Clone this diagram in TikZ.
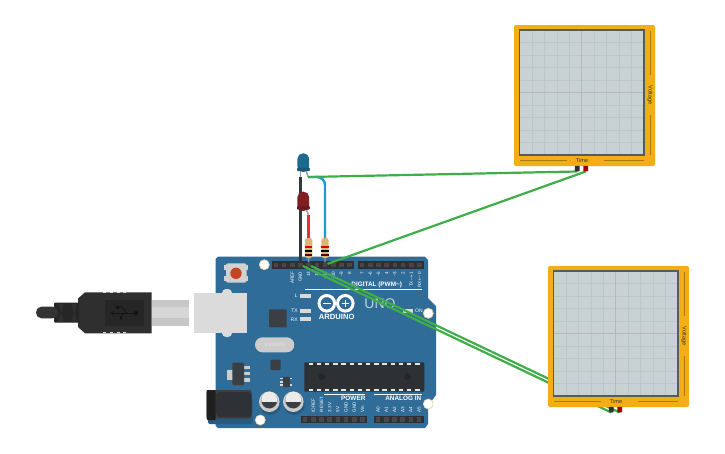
\documentclass[tikz,border=0pt]{standalone}
\usepackage{fontspec}
\setmainfont{Liberation Sans}
\usetikzlibrary{positioning}
\definecolor{boardblue}{HTML}{2F6C98}
\definecolor{boarddark}{HTML}{265A80}
\definecolor{scopeorange}{HTML}{F2AE14}
\definecolor{scopescreen}{HTML}{C8D2D4}
\definecolor{scopegrid}{HTML}{BDC7C9}
\definecolor{scopeedge}{HTML}{555B5E}
\definecolor{headerdark}{HTML}{2E3133}
\definecolor{wiregreen}{HTML}{3FAE49}
\definecolor{wireblue}{HTML}{1E9AD6}
\definecolor{wirered}{HTML}{E8312F}
\definecolor{wireblack}{HTML}{34383B}
\definecolor{ledblue}{HTML}{1C6A8E}
\definecolor{ledred}{HTML}{7F1F22}
\definecolor{restan}{HTML}{D9B779}
\definecolor{chipdark}{HTML}{3A3F44}
\definecolor{plugdark}{HTML}{2F2F2F}
\tikzset{x=1pt,y=-1pt,
    wirelink/.style={line width=2.2pt,wiregreen},
    flatwire/.style={line width=2.4pt},
    header/.style={fill=headerdark,draw=none,inner sep=0pt,minimum height=7.6pt},
    pinhole/.style={fill=black!72,draw=none,inner sep=0pt,minimum size=4.6pt},
    mounthole/.style={circle,fill=white,draw=restan!60,line width=.7pt,inner sep=0pt,minimum size=10pt},
    boardtext/.style={text=white,inner sep=0pt,font=\fontsize{5}{5}\selectfont},
    pintext/.style={boardtext,rotate=90,font=\fontsize{4.6}{5}\selectfont},
    headtext/.style={boardtext,font=\bfseries\fontsize{6.4}{6}\selectfont},
    boardline/.style={white,line width=.6pt},
    smd/.style={fill=white!85!black,draw=none,inner sep=0pt,minimum width=10.5pt,minimum height=4pt},
    led/.style={draw=none},
    lead/.style={line width=1.3pt,black!40},
    usbmark/.style={black!92,line width=.7pt},
    resistor/.style={fill=restan,draw=none,rounded corners=2.5pt,inner sep=0pt,
        minimum width=7.4pt,minimum height=20pt},
    probe/.style={fill=#1,draw=none,inner sep=0pt,minimum width=4.8pt,minimum height=5.5pt,rounded corners=.6pt},
    scopeoutline/.style={fill=scopeorange,draw=none,rounded corners=2pt},
    scopelabel/.style={text=black!80,inner sep=0pt,font=\fontsize{5.6}{6}\selectfont},
    oscilloscope/.pic={
        \fill[scopeoutline] (0,0) rectangle (141,141);
        \fill[scopescreen] (5.5,5) rectangle (130,130);
        \foreach \g in {1,...,9}{
            \draw[scopegrid,line width=.6pt] (5.5+12.45*\g,5) -- (5.5+12.45*\g,130);
            \draw[scopegrid,line width=.6pt] (5.5,5+12.5*\g) -- (130,5+12.5*\g);
        }
        \draw[black!28,line width=.8pt] (67.75,5) -- (67.75,130);
        \draw[black!28,line width=.8pt] (5.5,67.5) -- (130,67.5);
        \draw[scopeedge,line width=1.4pt] (5.5,5) rectangle (130,130);
        \draw[black!30!scopeorange,line width=.4pt] (6,135.5) -- (53,135.5);
        \draw[black!30!scopeorange,line width=.4pt] (90,135.5) -- (130,135.5);
        \draw[black!30!scopeorange,line width=.4pt] (136,6) -- (136,50);
        \draw[black!30!scopeorange,line width=.4pt] (136,90) -- (136,130);
        \node[scopelabel] (-time) at (68,135.5) {Time};
        \node[scopelabel,rotate=-90] (-voltage) at (136,70) {Voltage};
        \node[probe=headerdark] (-black) at (63.3,143.5) {};
        \node[probe=red!60!black] (-red) at (71.7,143.5) {};
    }}
\begin{document}
\begin{tikzpicture}
    \useasboundingbox[fill=white] (0,0) rectangle (725,453);

    % board
    \fill[boardblue] (218,256.7) -- (425,256.7) -- (428,260) -- (428,298) -- (436,306)
        -- (436,395) -- (428,406) -- (428,424) -- (425,428) -- (218,428)
        -- (215.7,426) -- (215.7,259) -- cycle;

    % headers and pins
    \node[header,minimum width=82pt] (headA) at (312.7,264.8) {};
    \node[header,minimum width=66pt] (headB) at (391,264.8) {};
    \node[header,minimum width=65.6pt] (headC) at (333.8,419.6) {};
    \node[header,minimum width=49.6pt] (headD) at (398.8,419.6) {};
    \foreach \i in {0,...,9}
        \node[pinhole] (pinA\i) at (275.8+8.2*\i,264.8) {};
    \foreach \i in {0,...,7}
        \node[pinhole] (pinB\i) at (362.1+8.2*\i,264.8) {};
    \foreach \i in {0,...,7}
        \node[pinhole] (pinC\i) at (305.1+8.2*\i,419.6) {};
    \foreach \i in {0,...,5}
        \node[pinhole] (pinD\i) at (378.1+8.2*\i,419.6) {};

    % pin labels
    \foreach \i/\t in {2/AREF,3/GND,4/13,5/12,6/\textasciitilde11,7/\textasciitilde10,8/\textasciitilde9,9/8}
        \node[pintext,anchor=east] (labA\i) at (275.8+8.2*\i,271.5) {\t};
    \foreach \i/\t in {0/7,1/\textasciitilde6,2/\textasciitilde5,3/4,4/\textasciitilde3,5/2,6/TX$\scriptscriptstyle\to$1,7/RX$\scriptscriptstyle\leftarrow$0}
        \node[pintext,anchor=east] (labB\i) at (362.1+8.2*\i,271.5) {\t};
    \foreach \i/\t in {1/IOREF,2/RESET,3/3.3V,4/5V,5/GND,6/GND,7/Vin}
        \node[pintext,anchor=west] (labC\i) at (305.1+8.2*\i,412.5) {\t};
    \foreach \i in {0,...,5}
        \node[pintext,anchor=west] (labD\i) at (378.1+8.2*\i,412.5) {A\i};

    \node[headtext] (digital) at (376.7,285) {DIGITAL (PWM\textasciitilde)};
    \node[headtext] (power) at (353.3,398.5) {POWER};
    \node[headtext] (analog) at (403.3,398.5) {ANALOG IN};
    \draw[boardline] (305,289.3) -- (421.7,289.3);
    \draw[boardline] (324.3,394.3) -- (365,394.3);
    \draw[boardline] (374,394.3) -- (421.7,394.3);

    % logo
    \draw[white,line width=3pt] (326.8,303.3) circle (7.8pt);
    \draw[white,line width=3pt] (345.3,303.3) circle (7.8pt);
    \draw[white,line width=1.4pt] (323,303.3) -- (330.6,303.3);
    \draw[white,line width=1.4pt] (341.5,303.3) -- (349.1,303.3);
    \draw[white,line width=1.4pt] (345.3,299.5) -- (345.3,307.1);
    \node[boardtext,font=\bfseries\fontsize{7.6}{8}\selectfont] (arduino) at (336.7,317) {ARDUINO};
    \node[boardtext,font=\fontsize{14}{14}\selectfont,text=white!70!boardblue] (uno) at (380,304) {UNO};

    % small leds
    \node[smd] (ledL) at (305.3,295.7) {};
    \node[smd] (ledTX) at (305.3,311) {};
    \node[smd] (ledRX) at (305.3,319.3) {};
    \node[smd] (ledON) at (408,311) {};
    \node[boardtext,left=2pt of ledL] (labL) {L};
    \node[boardtext,left=2pt of ledTX] (labTX) {TX};
    \node[boardtext,left=2pt of ledRX] (labRX) {RX};
    \node[boardtext,right=1.5pt of ledON] (labON) {ON};

    % parts on the board
    \fill[white!82!black,rounded corners=2pt] (226,263.3) rectangle (246.5,282.7);
    \fill[white!82!black] (224,265) rectangle (248.3,270);
    \fill[white!82!black] (224,276) rectangle (248.3,281);
    \fill[red!40!brown!90!black] (236,273.3) circle (5.7pt);
    \fill[chipdark,rounded corners=1pt] (269,309.3) rectangle (286.7,327.3);
    \fill[white!80!black,rounded corners=7.5pt] (255,337.3) rectangle (294.3,352.3);
    \node[boardtext,text=white!90!black,font=\fontsize{5}{5}\selectfont] (crystal) at (274.6,344.8) {SN16000};
    \fill[chipdark,rounded corners=1pt] (270.3,359.7) rectangle (280.7,370);
    \fill[white!80!black] (227.3,369.5) rectangle (233,379.5);
    \foreach \p in {367.3,373.6,380}
        \fill[white!80!black] (243,\p-1.8) rectangle (250,\p+1.8);
    \fill[chipdark,rounded corners=1pt] (232.3,362.7) rectangle (244,385);
    \foreach \p in {378.5,381.7,384.9}
        \fill[white!85!black] (280,\p-.9) rectangle (284,\p+.9);
    \foreach \p in {378.5,384.9}
        \fill[white!85!black] (289,\p-.9) rectangle (291.5,\p+.9);
    \fill[chipdark] (282.7,376.7) rectangle (290,386.7);
    \fill[boarddark,rounded corners=2pt] (208,398) rectangle (252.5,424);
    \fill[black!75,rounded corners=2pt] (206.7,390) rectangle (251.7,418.5);
    \fill[chipdark!80!black,rounded corners=4pt] (216,392) rectangle (251.7,417);
    \fill[black!88,rounded corners=1pt] (206.7,390) rectangle (215.5,420);
    \foreach \c in {269.3,293.3}{
        \fill[boarddark] (\c+1,404.5) circle (10.5pt);
        \fill[white!80!black] (\c,401.7) circle (10.3pt);
        \fill[white!60!black] (\c,400.5) circle (8.2pt);
        \fill[white!92!black] (\c,399.5) circle (7.8pt);
        \begin{scope}
            \clip (\c-9,402.5) rectangle (\c+9,412);
            \fill[chipdark] (\c,400.5) circle (7.8pt);
        \end{scope}
    }
    \fill[headerdark,rounded corners=1pt] (304.3,362.3) rectangle (424.3,391.7);
    \foreach \i in {0,...,13}{
        \fill[white!90!black] (308.5+8.2*\i,363) rectangle (313+8.2*\i,364.8);
        \fill[white!90!black] (308.5+8.2*\i,389.2) rectangle (313+8.2*\i,391);
    }
    \fill[black!85] (321.7,376.7) circle (3.4pt);
    \fill[black!85] (407.3,376.7) circle (3.4pt);

    \node[mounthole] (hole1) at (264.3,264.7) {};
    \node[mounthole] (hole2) at (428.3,313.3) {};
    \node[mounthole] (hole3) at (428.3,404) {};
    \node[mounthole] (hole4) at (260.3,420) {};

    % usb
    \fill[white!86!black,rounded corners=4pt] (222,289) rectangle (232,337);
    \fill[white!86!black] (194.3,293.3) rectangle (247.3,333.3);
    \fill[white!78!black] (151.7,300) rectangle (189.3,325.7);
    \fill[white!84!black] (151.7,307) rectangle (189.3,318);
    \fill[plugdark] (78,298.5) -- (85,292.3) -- (151.7,292.3) -- (151.7,333.3) -- (85,333.3) -- (78,327) -- cycle;
    \foreach \u in {0,...,3}{
        \fill[white!85!black] (103+6.8*\u,292.3) rectangle (106+6.8*\u,293.3);
        \fill[white!85!black] (103+6.8*\u,332.3) rectangle (106+6.8*\u,333.3);
    }
    \fill[black!85,rounded corners=1pt] (54,302.7) rectangle (79,322.7);
    \fill[plugdark] (58,303.5) -- (61,312.7) -- (58,322) -- (64,322) -- (61,312.7) -- (64,303.5) -- cycle;
    \fill[plugdark] (71,303.5) -- (74,312.7) -- (71,322) -- (77,322) -- (74,312.7) -- (77,303.5) -- cycle;
    \fill[black!80,rounded corners=5.5pt] (36,306.7) rectangle (58,318.3);
    \fill[black!85] (105,300) rectangle (144,325.7);
    \draw[usbmark,->,>=stealth] (136,313) -- (110,313);
    \fill[black!92] (136,313) circle (2.4pt);
    \draw[usbmark] (127,313) -- (122,307) -- (116,307);
    \draw[usbmark] (124,313) -- (120,318) -- (122,318);
    \fill[black!92] (116,305.5) rectangle (119,308.5);
    \fill[black!92] (121,318) circle (1.5pt);

    % named points for the wires
    \coordinate (jointBlue) at (308,177);
    \coordinate (cornerBlack) at (300.4,177);

    % resistors
    \node[resistor] (res1) at (308.6,248) {};
    \node[resistor] (res2) at (325,248) {};
    \foreach \r in {308.6,325}{
        \fill[red!85!black] (\r-3.7,246) rectangle (\r+3.7,247.8);
        \fill[black] (\r-3.7,250) rectangle (\r+3.7,252.2);
        \fill[red!35!black] (\r-3.7,254) rectangle (\r+3.7,255.8);
    }
    \draw[lead] (res1.south) -- (pinA4);
    \draw[lead] (res2.south) -- (pinA6);

    % leds
    \node[led] (ledblue) at (303.3,162.5) {};
    \node[led] (ledred) at (303.3,201) {};
    \coordinate (ledblueA) at (306,170.5);
    \coordinate (ledredA) at (306,209);
    \coordinate (ledredB) at (308.6,215);
    \draw[wireblack,flatwire] (cornerBlack) -- (pinA3);
    \draw[lead] (ledblueA) -- (jointBlue);
    \draw[lead] (300.4,170.5) -- (cornerBlack);
    \draw[lead] (ledredA) -- (ledredB);
    \draw[wirered,flatwire] (ledredB) -- (res1.north);
    \draw[wireblue,flatwire,rounded corners=8pt] (jointBlue) -- (325,177) -- (res2.north);
    \fill[ledblue,rounded corners=5.5pt] (297.4,172) -- (297.4,153.3) -- (309.2,153.3) -- (309.2,172) -- cycle;
    \fill[ledblue!85!black,rounded corners=1pt] (297,167.5) rectangle (309.8,171.2);
    \fill[ledred,rounded corners=5.5pt] (297.4,211) -- (297.4,191.7) -- (309.2,191.7) -- (309.2,211) -- cycle;
    \fill[ledred!85!black,rounded corners=1pt] (297,205.8) rectangle (309.8,209.5);

    % scopes
    \coordinate (topblack) at (577.3,171.5);
    \coordinate (topred) at (585.7,171.5);
    \coordinate (lowblack) at (611.3,412.5);
    \coordinate (lowred) at (619.7,412.5);
    \draw[wirelink] (topblack) -- (jointBlue);
    \draw[wirelink] (topred) -- (pinA6);
    \draw[wirelink] (lowblack) -- (pinA3);
    \draw[wirelink] (lowred) -- (pinA4);
    \pic (scopetop) at (514,25) {oscilloscope};
    \pic (scopelow) at (548,266) {oscilloscope};
\end{tikzpicture}
\end{document}
